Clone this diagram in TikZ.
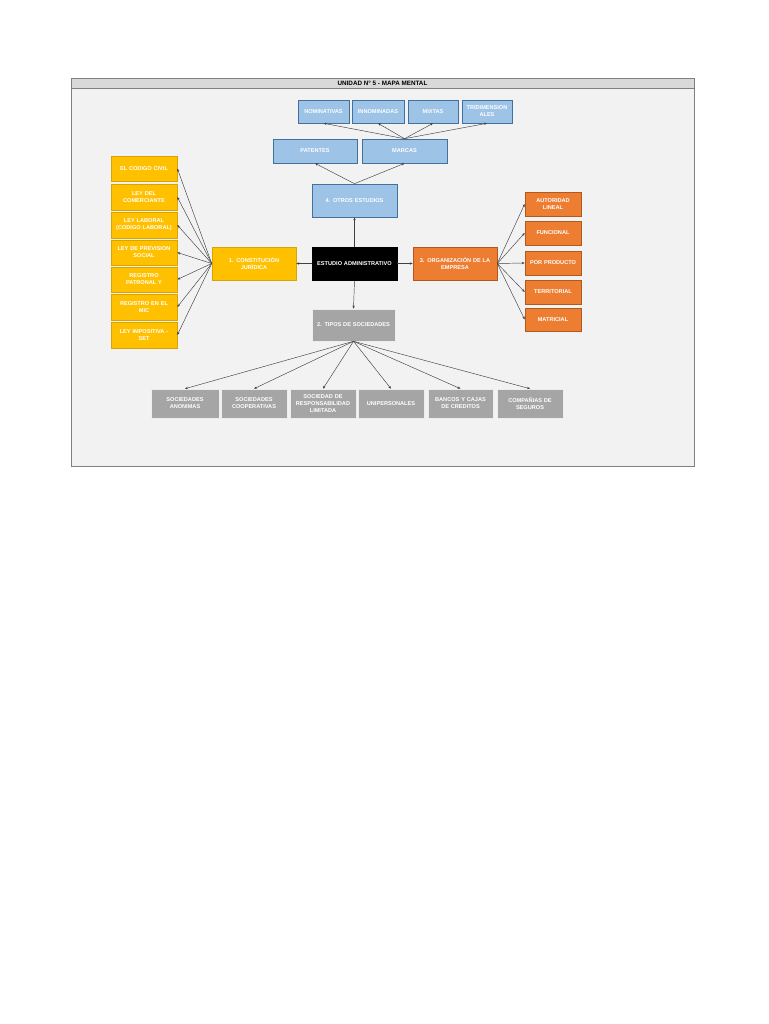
\documentclass[tikz,border=0pt]{standalone}
\usepackage{fontspec}
\setmainfont{Liberation Sans}
\usetikzlibrary{arrows.meta}
\definecolor{bluef}{RGB}{157,195,230}
\definecolor{blued}{RGB}{65,113,156}
\definecolor{yel}{RGB}{255,192,0}
\definecolor{yeld}{RGB}{191,144,0}
\definecolor{ora}{RGB}{237,125,49}
\definecolor{orad}{RGB}{174,90,33}
\definecolor{gry}{RGB}{165,165,165}
\definecolor{bg}{RGB}{242,242,242}
\definecolor{frame}{RGB}{128,128,128}
\tikzset{
  box/.style={draw, line width=0.6pt, inner sep=1pt, align=center, text=white,
    font=\fontsize{5.6}{7}\selectfont\bfseries},
  bluebox/.style={box, fill=bluef, draw=blued},
  yelbox/.style={box, fill=yel, draw=yeld!60!yel},
  orabox/.style={box, fill=ora, draw=orad},
  grybox/.style={box, fill=gry, draw=white!80!gry},
  blkbox/.style={box, fill=black, draw=black},
  conn/.style={draw=black!75, line width=0.45pt, -{Stealth[length=3pt,width=2.4pt]}}
}
\begin{document}
\begin{tikzpicture}[x=1pt,y=-1pt]
\useasboundingbox (0,0) rectangle (768,1024);
\fill[white] (0,0) rectangle (768,1024);
% frame
\draw[frame, fill=bg, line width=0.8pt] (71,78) rectangle (694,466);
\draw[frame, fill=black!15, line width=0.8pt] (71,78) rectangle (694,88);
\node[font=\fontsize{6.3}{7}\selectfont\bfseries] (title) at (382.5,83) {UNIDAD N° 5 - MAPA MENTAL};

% top
\node[bluebox, minimum width=51, minimum height=23, text width=49] (nom) at (323.5,111.5) {NOMINATIVAS};
\node[bluebox, minimum width=52, minimum height=23, text width=50] (inn) at (378,111.5) {INNOMINADAS};
\node[bluebox, minimum width=50, minimum height=23, text width=46] (mix) at (433,111.5) {MIXTAS};
\node[bluebox, minimum width=50, minimum height=23, text width=48] (tri) at (487,111.5) {TRIDIMENSION\\ALES};
\node[bluebox, minimum width=84, minimum height=24, text width=80] (pat) at (315,151) {PATENTES};
\node[bluebox, minimum width=85, minimum height=24, text width=81] (mar) at (404.5,151) {MARCAS};
\node[bluebox, minimum width=85, minimum height=33, text width=81] (otros) at (354.5,200.5) {4. OTROS ESTUDIOS};

% center
\node[blkbox, minimum width=85, minimum height=33, text width=83] (est) at (354.5,263.5) {ESTUDIO ADMINISTRATIVO};
\node[yelbox, minimum width=84, minimum height=33, text width=70] (cons) at (254,263.5) {1. CONSTITUCIÓN\\JURÍDICA};
\node[orabox, minimum width=84, minimum height=33, text width=80] (org) at (455,263.5) {3. ORGANIZACIÓN DE LA\\EMPRESA};
\node[grybox, minimum width=83, minimum height=32, text width=79] (tipos) at (353.5,325) {2. TIPOS DE SOCIEDADES};

% left column
\node[yelbox, minimum width=66, minimum height=25, text width=62] (l1) at (144,168.5) {EL CODIGO CIVIL};
\node[yelbox, minimum width=66, minimum height=26, text width=62] (l2) at (144,197) {LEY DEL\\COMERCIANTE};
\node[yelbox, minimum width=66, minimum height=26, text width=64] (l3) at (144,225) {LEY LABORAL\\(CODIGO LABORAL)};
\node[yelbox, minimum width=66, minimum height=25, text width=62] (l4) at (144,252.5) {LEY DE PREVISION\\SOCIAL};
\node[yelbox, minimum width=66, minimum height=25, text width=62] (l5) at (144,279.5) {REGISTRO\\PATRONAL Y};
\node[yelbox, minimum width=66, minimum height=26, text width=62] (l6) at (144,307) {REGISTRO EN EL\\MIC};
\node[yelbox, minimum width=66, minimum height=26, text width=62] (l7) at (144,335) {LEY IMPOSITIVA -\\SET};

% right column
\node[orabox, minimum width=56, minimum height=24, text width=52] (r1) at (553,204) {AUTORIDAD\\LINEAL};
\node[orabox, minimum width=56, minimum height=24, text width=52] (r2) at (553,233) {FUNCIONAL};
\node[orabox, minimum width=56, minimum height=24, text width=54] (r3) at (553,263) {POR PRODUCTO};
\node[orabox, minimum width=56, minimum height=24, text width=52] (r4) at (553,292) {TERRITORIAL};
\node[orabox, minimum width=56, minimum height=23, text width=52] (r5) at (553,319.5) {MATRICIAL};

% bottom row
\node[grybox, minimum width=68, minimum height=29, text width=64] (b1) at (185,403.5) {SOCIEDADES\\ANONIMAS};
\node[grybox, minimum width=66, minimum height=29, text width=64] (b2) at (254,403.5) {SOCIEDADES\\COOPERATIVAS};
\node[grybox, minimum width=66, minimum height=29, text width=64] (b3) at (323,403.5) {SOCIEDAD DE\\RESPONSABILIDAD\\LIMITADA};
\node[grybox, minimum width=66, minimum height=29, text width=62] (b4) at (391,403.5) {UNIPERSONALES};
\node[grybox, minimum width=65, minimum height=29, text width=63] (b5) at (460.5,403.5) {BANCOS Y CAJAS\\DE CREDITOS};
\node[grybox, minimum width=66, minimum height=29, text width=62] (b6) at (530,403.5) {COMPAÑIAS DE\\SEGUROS};

% connectors
\draw[conn] (est.north) -- (otros.south);
\draw[conn] (est.west) -- (cons.east);
\draw[conn] (est.east) -- (org.west);
\draw[conn] (est.south) -- (tipos.north);

\foreach \t in {pat,mar} \draw[conn] (otros.north) -- (\t.south);
\foreach \t in {nom,inn,mix,tri} \draw[conn] (mar.north) -- (\t.south);
\foreach \t in {l1,l2,l3,l4,l5,l6,l7} \draw[conn] (cons.west) -- (\t.east);
\foreach \t in {r1,r2,r3,r4,r5} \draw[conn] (org.east) -- (\t.west);
\foreach \t in {b1,b2,b3,b4,b5,b6} \draw[conn] (tipos.south) -- (\t.north);
\end{tikzpicture}
\end{document}
